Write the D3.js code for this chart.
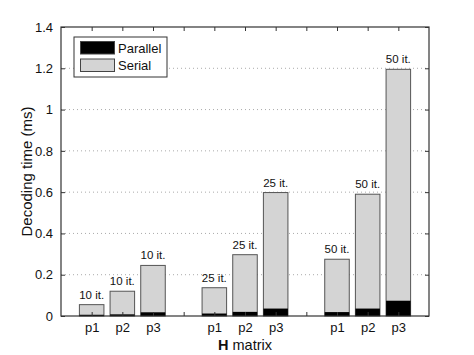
<!DOCTYPE html>
<html lang="en">
<head>
    <meta charset="UTF-8">
    <title>Decoding time</title>
    <script src="https://d3js.org/d3.v7.min.js"></script>
    <style>
        body { margin: 0; background: #fff; }
        text { font-family: 'Liberation Sans', Arial, sans-serif; fill: #111; }
        .grid line { stroke: #aaa; stroke-dasharray: 1,3; }
    </style>
</head>
<body>
    <svg width="474" height="355"></svg>

    <script>
        const labels = ["p1", "p2", "p3", "p1", "p2", "p3", "p1", "p2", "p3"];
        const positions = [1, 2, 3, 5, 6, 7, 9, 10, 11];
        const serial = [0.055, 0.12, 0.245, 0.137, 0.297, 0.598, 0.275, 0.59, 1.195];
        const parallel = [0.006, 0.008, 0.018, 0.012, 0.02, 0.036, 0.019, 0.036, 0.074];
        const iterLabels = ["10 it.", "10 it.", "10 it.", "25 it.", "25 it.", "25 it.", "50 it.", "50 it.", "50 it."];
        const yTicks = [0, 0.2, 0.4, 0.6, 0.8, 1, 1.2, 1.4];

        const svg = d3.select("svg"),
            margin = {top: 27, right: 45, bottom: 39, left: 61},
            width = +svg.attr("width") - margin.left - margin.right,
            height = +svg.attr("height") - margin.top - margin.bottom,
            g = svg.append("g").attr("transform", "translate(" + margin.left + "," + margin.top + ")");

        const x = d3.scaleLinear().domain([0, 12]).range([0, width]);
        const y = d3.scaleLinear().domain([0, 1.4]).range([height, 0]);
        const barW = x(0.8) - x(0);

        // grid
        g.append("g").attr("class", "grid")
            .selectAll("line")
            .data(yTicks.slice(1, -1))
            .join("line")
            .attr("x1", 0).attr("x2", width)
            .attr("y1", d => y(d)).attr("y2", d => y(d));

        const data = labels.map((l, i) => ({
            label: l, pos: positions[i], serial: serial[i], parallel: parallel[i], it: iterLabels[i]
        }));

        // serial (total) bars
        g.selectAll(".serial")
            .data(data)
            .join("rect")
            .attr("class", "serial")
            .attr("x", d => x(d.pos) - barW / 2)
            .attr("width", barW)
            .attr("y", d => y(d.serial))
            .attr("height", d => y(0) - y(d.serial))
            .attr("fill", "#d4d4d4")
            .attr("stroke", "#555")
            .attr("stroke-width", 1);

        g.selectAll(".parallel")
            .data(data)
            .join("rect")
            .attr("class", "parallel")
            .attr("x", d => x(d.pos) - barW / 2)
            .attr("width", barW)
            .attr("y", d => y(d.parallel))
            .attr("height", d => y(0) - y(d.parallel))
            .attr("fill", "#000");

        g.selectAll(".itlabel")
            .data(data)
            .join("text")
            .attr("class", "itlabel")
            .attr("x", d => x(d.pos))
            .attr("y", d => y(d.serial) - 6)
            .attr("text-anchor", "middle")
            .attr("font-size", 11.5)
            .text(d => d.it);

        // axes
        const yAxis = d3.axisLeft(y).tickValues(yTicks).tickFormat(d3.format("")).tickSizeInner(-4).tickSizeOuter(0).tickPadding(8);
        g.append("g").call(yAxis)
            .call(a => a.select(".domain").remove())
            .call(a => a.selectAll("line").attr("stroke", "#333"))
            .call(a => a.selectAll("text").attr("font-size", 13).attr("font-family", "'Liberation Sans', Arial, sans-serif"));

        g.append("g").attr("transform", "translate(" + width + ",0)")
            .call(d3.axisRight(y).tickValues(yTicks).tickSizeInner(-4).tickSizeOuter(0).tickFormat(""))
            .call(a => a.select(".domain").remove())
            .call(a => a.selectAll("line").attr("stroke", "#333"));

        const allPos = d3.range(1, 12);
        g.append("g").attr("transform", "translate(0," + height + ")")
            .call(d3.axisBottom(x).tickValues(allPos).tickSizeInner(-4).tickSizeOuter(0).tickPadding(7)
                .tickFormat(d => { const i = positions.indexOf(d); return i >= 0 ? labels[i] : ""; }))
            .call(a => a.select(".domain").remove())
            .call(a => a.selectAll("line").attr("stroke", "#333"))
            .call(a => a.selectAll("text").attr("font-size", 13).attr("font-family", "'Liberation Sans', Arial, sans-serif"));

        g.append("g")
            .call(d3.axisTop(x).tickValues(allPos).tickSizeInner(-4).tickSizeOuter(0).tickFormat(""))
            .call(a => a.select(".domain").remove())
            .call(a => a.selectAll("line").attr("stroke", "#333"));

        // frame
        g.append("rect")
            .attr("width", width).attr("height", height)
            .attr("fill", "none").attr("stroke", "#333").attr("stroke-width", 1.2);

        // axis titles
        const xt = svg.append("text")
            .attr("x", margin.left + width / 2)
            .attr("y", 350)
            .attr("text-anchor", "middle")
            .attr("font-size", 14.5);
        xt.append("tspan").attr("font-weight", "bold").text("H");
        xt.append("tspan").text(" matrix");

        svg.append("text")
            .attr("transform", "translate(32," + (margin.top + height / 2) + ") rotate(-90)")
            .attr("text-anchor", "middle")
            .attr("font-size", 15)
            .text("Decoding time (ms)");

        // legend
        const lg = svg.append("g").attr("transform", "translate(74,37)");
        lg.append("rect").attr("width", 93).attr("height", 40)
            .attr("fill", "#fff").attr("stroke", "#333");
        const legendItems = [["Parallel", "#000"], ["Serial", "#d4d4d4"]];
        legendItems.forEach((it, i) => {
            lg.append("rect").attr("x", 6.5).attr("y", 4.5 + i * 17.5)
                .attr("width", 34).attr("height", 12.5)
                .attr("fill", it[1]).attr("stroke", "#444");
            lg.append("text").attr("x", 44).attr("y", 15.5 + i * 17.5)
                .attr("font-size", 13).text(it[0]);
        });
    </script>
</body>
</html>
